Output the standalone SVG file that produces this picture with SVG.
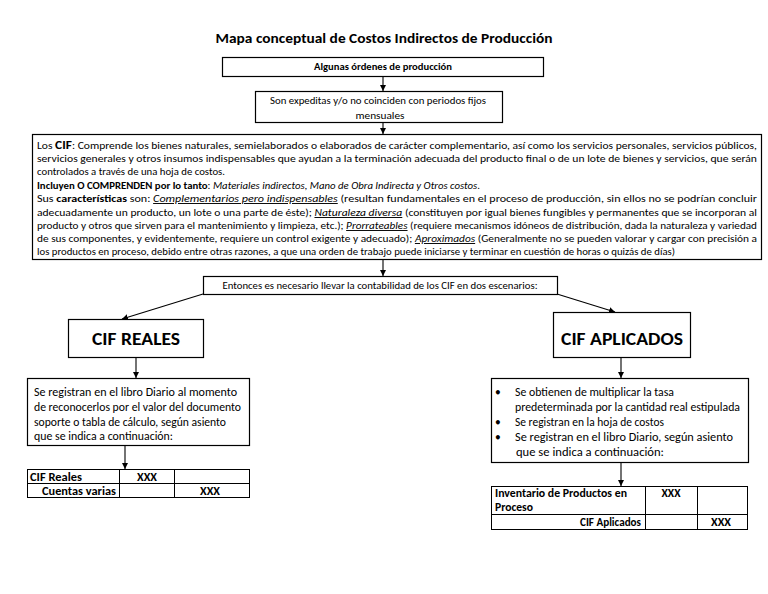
<svg xmlns="http://www.w3.org/2000/svg" width="768" height="594" viewBox="0 0 768 594">
<style>
text{font-family:Carlito,"Liberation Sans",Arial,sans-serif;fill:#000}
.box{fill:#fff;stroke:#000;stroke-width:1.2}
.cell{fill:#fff;stroke:#000;stroke-width:1}
.b{font-weight:bold}
.i{font-style:italic}
.u{text-decoration:underline}
.t9{font-size:9.5px}
.t11{font-size:11.5px}
.big{font-size:19px;font-weight:bold}
.c{text-anchor:middle}
.r{text-anchor:end}
.conn line{stroke:#000;stroke-width:1.1;marker-end:url(#ah)}
</style>
<defs>
<marker id="ah" markerUnits="userSpaceOnUse" markerWidth="6" markerHeight="6" refX="6" refY="3" orient="auto">
<path d="M0,0 L6,3 L0,6 z" fill="#000"/>
</marker>
</defs>
<rect width="768" height="594" fill="#fff"/>
<text class="b c" x="384" y="43" font-size="14" textLength="337" lengthAdjust="spacingAndGlyphs">Mapa conceptual de Costos Indirectos de Producción</text>

<g id="conns" class="conn">
<line x1="383" y1="76" x2="383" y2="91"/>
<line x1="383" y1="122" x2="383" y2="134"/>
<line x1="383" y1="259" x2="383" y2="276"/>
<line x1="203" y1="294" x2="122" y2="319"/>
<line x1="557" y1="294" x2="615" y2="312"/>
<line x1="136" y1="357" x2="136" y2="378"/>
<line x1="125" y1="445" x2="125" y2="469"/>
<line x1="621" y1="357" x2="621" y2="378"/>
<line x1="621" y1="462" x2="621" y2="486"/>
</g>

<g id="n-ordenes">
<rect class="box" x="222.5" y="57.5" width="321" height="19"/>
<text class="b c t9" x="383" y="70" textLength="138" lengthAdjust="spacingAndGlyphs">Algunas órdenes de producción</text>
</g>

<g id="n-expeditas">
<rect class="box" x="255.5" y="91.5" width="247" height="31"/>
<text class="c t9" x="378" y="104" textLength="216" lengthAdjust="spacingAndGlyphs">Son expeditas y/o no coinciden con periodos fijos</text>
<text class="c t9" x="380" y="119" textLength="49" lengthAdjust="spacingAndGlyphs">mensuales</text>
</g>

<g id="n-cif">
<rect class="box" x="32.5" y="134.5" width="729" height="125"/>
<text class="t9" x="37" y="149" textLength="720" lengthAdjust="spacingAndGlyphs">Los <tspan class="b" font-size="11">CIF</tspan>: Comprende los bienes naturales, semielaborados o elaborados de carácter complementario, así como los servicios personales, servicios públicos,</text>
<text class="t9" x="37" y="162" textLength="720" lengthAdjust="spacingAndGlyphs">servicios generales y otros insumos indispensables que ayudan a la terminación adecuada del producto final o de un lote de bienes y servicios, que serán</text>
<text class="t9" x="37" y="175" textLength="188" lengthAdjust="spacingAndGlyphs">controlados a través de una hoja de costos.</text>
<text class="t9" x="37" y="189" textLength="443" lengthAdjust="spacingAndGlyphs"><tspan class="b">Incluyen O COMPRENDEN por lo tanto</tspan>: <tspan class="i">Materiales indirectos, Mano de Obra Indirecta y Otros costos</tspan>.</text>
<text class="t9" x="37" y="202" textLength="720" lengthAdjust="spacingAndGlyphs">Sus <tspan class="b">características</tspan> son: <tspan class="i u">Complementarios pero indispensables</tspan> (resultan fundamentales en el proceso de producción, sin ellos no se podrían concluir</text>
<text class="t9" x="37" y="216" textLength="720" lengthAdjust="spacingAndGlyphs">adecuadamente un producto, un lote o una parte de éste);  <tspan class="i u">Naturaleza diversa</tspan> (constituyen por igual bienes fungibles y permanentes que se incorporan al</text>
<text class="t9" x="37" y="229" textLength="720" lengthAdjust="spacingAndGlyphs">producto y otros que sirven para el mantenimiento y limpieza, etc.); <tspan class="i u">Prorrateables</tspan> (requiere mecanismos idóneos de distribución, dada la naturaleza y variedad</text>
<text class="t9" x="37" y="242" textLength="720" lengthAdjust="spacingAndGlyphs">de sus componentes, y evidentemente, requiere un control exigente y adecuado); <tspan class="i u">Aproximados</tspan> (Generalmente no se pueden valorar y cargar con precisión a</text>
<text class="t9" x="37" y="255" textLength="638" lengthAdjust="spacingAndGlyphs">los productos en proceso, debido entre otras razones, a que una orden de trabajo puede iniciarse y terminar en cuestión de horas o quizás de días)</text>
</g>

<g id="n-entonces">
<rect class="box" x="203.5" y="276.5" width="354" height="18"/>
<text class="c t9" x="380" y="289" textLength="315" lengthAdjust="spacingAndGlyphs">Entonces es necesario llevar la contabilidad de los CIF en dos escenarios:</text>
</g>

<g id="n-reales">
<rect class="box" x="68.5" y="319.5" width="135" height="38"/>
<text class="big c" x="136" y="345" textLength="88" lengthAdjust="spacingAndGlyphs">CIF REALES</text>
</g>

<g id="n-aplicados">
<rect class="box" x="553.5" y="312.5" width="137" height="45"/>
<text class="big c" x="622" y="345" textLength="122" lengthAdjust="spacingAndGlyphs">CIF APLICADOS</text>
</g>

<g id="n-reales-desc">
<rect class="box" x="27.5" y="378.5" width="222" height="67"/>
<text class="t11" x="34" y="396" textLength="203" lengthAdjust="spacingAndGlyphs">Se registran en el libro Diario al momento</text>
<text class="t11" x="34" y="411" textLength="207" lengthAdjust="spacingAndGlyphs">de reconocerlos por el valor del documento</text>
<text class="t11" x="34" y="426" textLength="192" lengthAdjust="spacingAndGlyphs">soporte o tabla de cálculo, según asiento</text>
<text class="t11" x="34" y="440" textLength="139" lengthAdjust="spacingAndGlyphs">que se indica a continuación:</text>
</g>

<g id="n-aplicados-desc">
<rect class="box" x="491.5" y="378.5" width="257" height="84"/>
<text class="t11" x="495" y="396">•</text>
<text class="t11" x="515" y="396" textLength="159" lengthAdjust="spacingAndGlyphs">Se obtienen de multiplicar la tasa</text>
<text class="t11" x="515" y="411" textLength="225" lengthAdjust="spacingAndGlyphs">predeterminada por la cantidad real estipulada</text>
<text class="t11" x="495" y="426">•</text>
<text class="t11" x="515" y="426" textLength="149" lengthAdjust="spacingAndGlyphs">Se registran en la hoja de costos</text>
<text class="t11" x="495" y="441">•</text>
<text class="t11" x="515" y="441" textLength="218" lengthAdjust="spacingAndGlyphs">Se registran en el libro Diario, según asiento</text>
<text class="t11" x="516" y="456" textLength="148" lengthAdjust="spacingAndGlyphs">que se indica a continuación:</text>
</g>

<g id="n-tabla-reales">
<rect class="cell" x="27.5" y="469.5" width="92" height="14"/>
<rect class="cell" x="119.5" y="469.5" width="55" height="14"/>
<rect class="cell" x="174.5" y="469.5" width="75" height="14"/>
<rect class="cell" x="27.5" y="483.5" width="92" height="14"/>
<rect class="cell" x="119.5" y="483.5" width="55" height="14"/>
<rect class="cell" x="174.5" y="483.5" width="75" height="14"/>
<text class="b" x="30" y="480.5" font-size="11" textLength="52" lengthAdjust="spacingAndGlyphs">CIF Reales</text>
<text class="b c" x="147" y="480.5" font-size="11" textLength="20" lengthAdjust="spacingAndGlyphs">XXX</text>
<text class="b r" x="116" y="494.5" font-size="11" textLength="74" lengthAdjust="spacingAndGlyphs">Cuentas varias</text>
<text class="b c" x="210" y="494.5" font-size="11" textLength="20" lengthAdjust="spacingAndGlyphs">XXX</text>
</g>

<g id="n-tabla-aplicados">
<rect class="cell" x="491.5" y="486.5" width="154" height="28"/>
<rect class="cell" x="645.5" y="486.5" width="52" height="28"/>
<rect class="cell" x="697.5" y="486.5" width="50" height="28"/>
<rect class="cell" x="491.5" y="514.5" width="154" height="15"/>
<rect class="cell" x="645.5" y="514.5" width="52" height="15"/>
<rect class="cell" x="697.5" y="514.5" width="50" height="15"/>
<text class="b" x="495" y="497" font-size="11" textLength="132" lengthAdjust="spacingAndGlyphs">Inventario de Productos en</text>
<text class="b" x="495" y="510.5" font-size="11" textLength="38" lengthAdjust="spacingAndGlyphs">Proceso</text>
<text class="b c" x="671" y="497" font-size="11" textLength="19" lengthAdjust="spacingAndGlyphs">XXX</text>
<text class="b r" x="641" y="526" font-size="11" textLength="61" lengthAdjust="spacingAndGlyphs">CIF Aplicados</text>
<text class="b c" x="721" y="526" font-size="11" textLength="20" lengthAdjust="spacingAndGlyphs">XXX</text>
</g>
</svg>
